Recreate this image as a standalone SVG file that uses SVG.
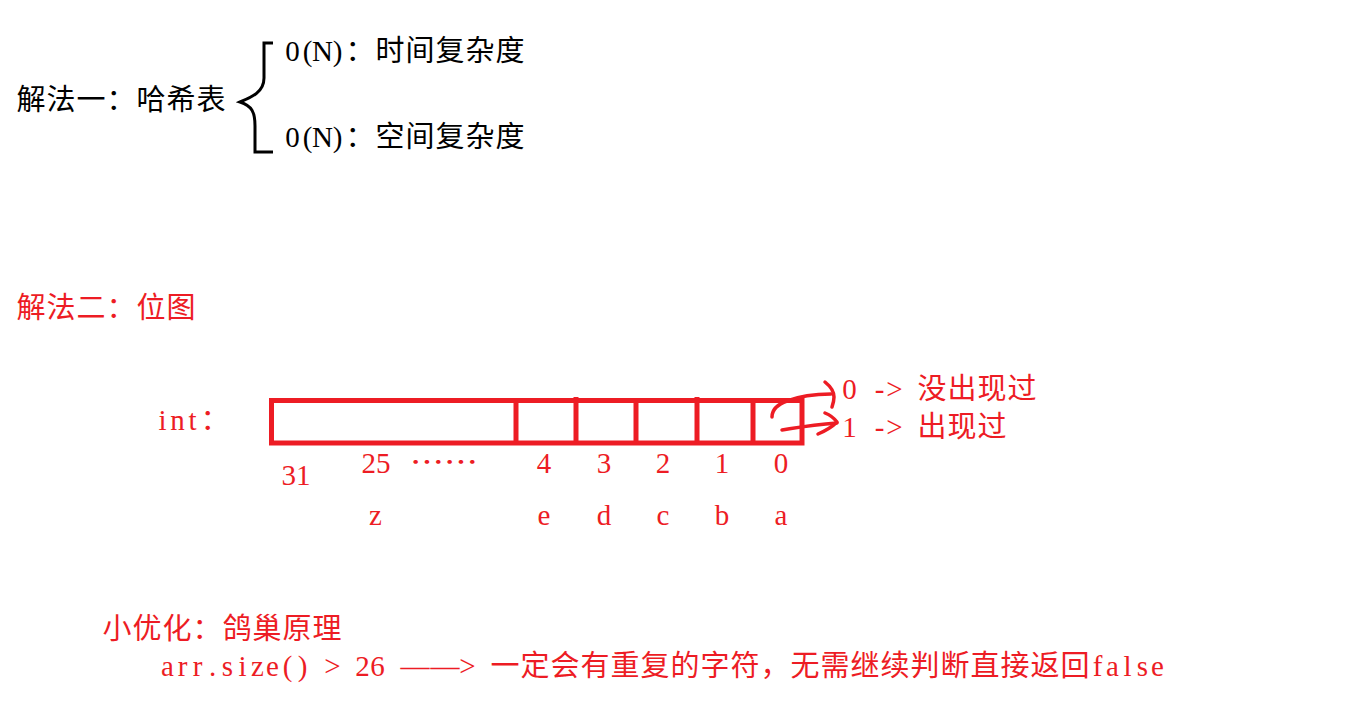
<svg xmlns="http://www.w3.org/2000/svg" width="1349" height="715" viewBox="0 0 1349 715">
<style>
text{font-family:"Liberation Serif","Noto Sans CJK SC",serif;font-size:29px}
.b{fill:#000}
.r{fill:#ED1C24}
.c{text-anchor:middle}
.st{fill:none;stroke:#ED1C24;stroke-width:5}
.hand{fill:none;stroke:#ED1C24;stroke-width:3.5;stroke-linecap:round;stroke-linejoin:round}
</style>
<rect width="1349" height="715" fill="#fff"/>
<g id="method1">
<text class="b c" x="31 61 91 121 151 181 211" y="110">解法一：哈希表</text>
<path d="M273,43 H264 V78 C264,92 252,97 240,102 C252,106 255,112 255,126 V152 H273" fill="none" stroke="#000" stroke-width="3"/>
<text class="b c" x="292.5 307.5 322.5 337.5 360 390 420 450 480 510" y="61">0(N)：时间复杂度</text>
<text class="b c" x="292.5 307.5 322.5 337.5 360 390 420 450 480 510" y="147">0(N)：空间复杂度</text>
</g>
<g id="method2">
<text class="r c" x="31 61 91 121 151 181" y="318">解法二：位图</text>
<text class="r c" x="162.5 177.5 192.5 215" y="430">int：</text>
</g>
<g id="bitmap">
<rect class="st" x="271.5" y="400.5" width="530.5" height="42.5"/>
<path class="st" d="M516,401 V443 M576,397 V443 M636,401 V443 M697,397 V443 M753,401 V443"/>
</g>
<g id="indices">
<text class="r c" x="296" y="485">31</text>
<text class="r c" x="376" y="473">25</text>
<text class="r" x="410" y="473" style="font-family:'Noto Sans CJK SC',sans-serif" textLength="68" lengthAdjust="spacingAndGlyphs">……</text>
<text class="r c" x="544" y="473">4</text>
<text class="r c" x="604" y="473">3</text>
<text class="r c" x="663" y="473">2</text>
<text class="r c" x="722" y="473">1</text>
<text class="r c" x="781" y="473">0</text>
<text class="r c" x="375.5" y="525">z</text>
<text class="r c" x="544" y="525">e</text>
<text class="r c" x="604" y="525">d</text>
<text class="r c" x="663" y="525">c</text>
<text class="r c" x="722" y="525">b</text>
<text class="r c" x="781" y="525">a</text>
</g>
<g id="legend">
<text class="r c" x="849.5 864.5 879.5 894.5 909.5 932 962 992 1022" y="399">0 -&gt; 没出现过</text>
<text class="r c" x="849.5 864.5 879.5 894.5 909.5 932 962 992" y="437">1 -&gt; 出现过</text>
</g>
<g id="connectors">
<path class="hand" d="M772,417 C772,410 776,405 787,401 C800,396 815,394 831,394"/>
<path class="hand" d="M825,382 C830,386 834,391 834,397 C834,401 833,404 832,407"/>
<path class="hand" d="M782,430 C795,428 810,425 837,423"/>
<path class="hand" d="M825,413 C830,415 834,418 837,422 C832,427 825,431 818,434"/>
</g>
<g id="optimization">
<text class="r c" x="117 147 177 207 237 267 297 327" y="639">小优化：鸽巢原理</text>
<text class="r c" x="167.5 182.5 197.5 212.5 227.5 242.5 257.5 272.5 287.5 302.5 317.5 332.5 347.5 362.5 377.5 392.5 415 445 467.5 482.5 505 535 565 595 625 655 685 715 745 775 805 835 865 895 925 955 985 1015 1045 1075 1097.5 1112.5 1127.5 1142.5 1157.5" y="676">arr.size() &gt; 26 ——&gt; 一定会有重复的字符，无需继续判断直接返回false</text>
</g>
</svg>
